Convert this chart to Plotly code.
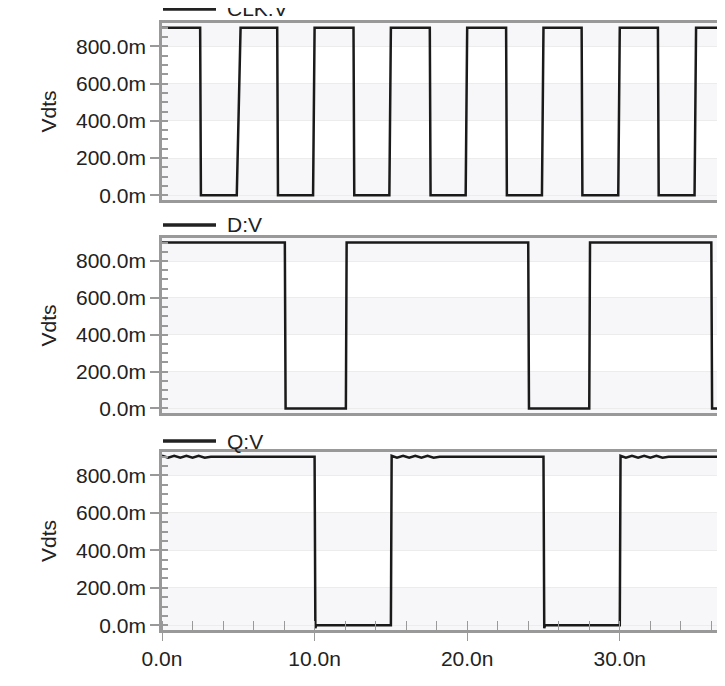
import plotly.graph_objects as go

clk_t = [0, 2.5, 2.55, 4.9, 5.15, 7.55, 7.6, 9.9, 10.0, 12.55, 12.6, 14.9, 15.0, 17.55, 17.6, 19.9, 20.0, 22.55, 22.6, 24.9, 25.0, 27.5, 27.55, 29.9, 30.0, 32.5, 32.55, 34.9, 35.0, 37.5]
clk_v = [900, 900, 0, 0, 900, 900, 0, 0, 900, 900, 0, 0, 900, 900, 0, 0, 900, 900, 0, 0, 900, 900, 0, 0, 900, 900, 0, 0, 900, 900]
d_t = [0, 8.05, 8.1, 12.05, 12.1, 24.0, 24.05, 28.0, 28.05, 36.0, 36.05, 38]
d_v = [900, 900, 0, 0, 900, 900, 0, 0, 900, 900, 0, 0]
q_t = [0, 0.4, 0.8, 1.2, 1.6, 2.0, 2.4, 2.8, 3.2, 10.0, 10.05, 10.1, 15.0, 15.05, 15.4, 15.8, 16.2, 16.6, 17.0, 17.4, 17.8, 18.2, 25.0, 25.05, 25.1, 30.0, 30.05, 30.4, 30.8, 31.2, 31.6, 32.0, 32.4, 32.8, 33.2, 38]
q_v = [905, 895, 905, 895, 905, 895, 905, 895, 900, 900, -15, 0, 0, 905, 895, 905, 895, 905, 895, 905, 895, 900, 900, -15, 0, 0, 905, 895, 905, 895, 905, 895, 905, 895, 900, 900]
names = ["CLK:V", "D:V", "Q:V"]
y_ticks = [0, 200, 400, 600, 800]
y_labels = ["0.0m", "200.0m", "400.0m", "600.0m", "800.0m"]
x_ticks = [0, 10, 20, 30]
x_labels = ["0.0n", "10.0n", "20.0n", "30.0n"]

OFF = 8
H = 622.0
W = 571.0
domains = [(23 - OFF, 200 - OFF), (238 - OFF, 413 - OFF), (452 - OFF, 630 - OFF)]
legend_y = [9 - OFF, 225 - OFF, 441 - OFF]
series = [(clk_t, clk_v), (d_t, d_v), (q_t, q_v)]
font = dict(family="Liberation Sans, Arial", size=21, color="#222")

fig = go.Figure()
shapes, annots = [], []
for i, ((t, v), (a, b)) in enumerate(zip(series, domains)):
    s = "" if i == 0 else str(i + 1)
    fig.add_trace(go.Scatter(x=t, y=v, mode="lines", line=dict(color="#1a1a1a", width=2.5),
                             xaxis="x" + s, yaxis="y" + s, showlegend=False))
    fig.layout["yaxis" + s] = dict(
        domain=[1 - b / H, 1 - a / H], range=[-25, 925], tickvals=y_ticks, ticktext=y_labels,
        ticks="outside", ticklen=9, tickcolor="#999", tickwidth=1.5,
        showline=True, mirror=True, linecolor="#999", linewidth=2.5,
        showgrid=True, gridcolor="#ececec", zeroline=False, tickfont=font,
        minor=dict(dtick=50, ticks="inside", ticklen=6, tickcolor="#999", showgrid=False),
        title=dict(text="Vdts", font=font, standoff=14), anchor="x" + s)
    last = i == 2
    fig.layout["xaxis" + s] = dict(
        domain=[0, 1], range=[0, 37.42], tickvals=x_ticks, ticktext=x_labels if last else [""] * 4,
        ticks="outside" if last else "", ticklen=8, tickcolor="#999",
        showline=True, mirror=True, linecolor="#999", linewidth=2.5,
        showgrid=False, zeroline=False, tickfont=font, anchor="y" + s,
        minor=dict(dtick=2, ticks="inside" if last else "", ticklen=9, tickcolor="#999"))
    for lo, hi in [(800, 925), (400, 600), (-25, 200)]:
        shapes.append(dict(type="rect", xref="x" + s + " domain", yref="y" + s, x0=0, x1=1, y0=lo, y1=hi,
                           fillcolor="#f7f7f9", line_width=0, layer="below"))
    py = 1 - legend_y[i] / H
    shapes.append(dict(type="line", xref="paper", yref="paper", x0=1 / W, x1=54 / W, y0=py, y1=py,
                       line=dict(color="#222", width=3.5)))
    annots.append(dict(text=names[i], xref="paper", yref="paper", x=63 / W, y=py, xanchor="left",
                       yanchor="middle", showarrow=False, font=font))

fig.update_layout(width=725, height=686, margin=dict(l=154, r=0, t=0, b=686 - 622, autoexpand=False),
                  paper_bgcolor="white", plot_bgcolor="white", shapes=shapes, annotations=annots)
fig.write_html("out.html")
